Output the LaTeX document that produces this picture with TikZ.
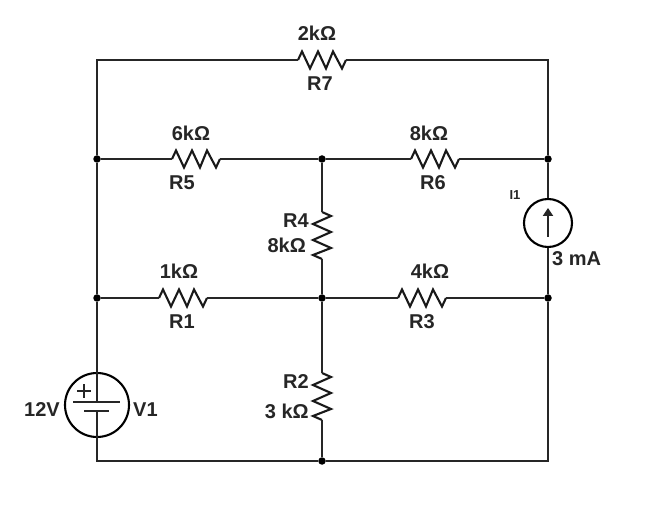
\documentclass[tikz,border=0pt]{standalone}
\usepackage{fontspec}
\setmainfont{Liberation Sans}
\usetikzlibrary{arrows.meta}
\tikzset{
  wire/.style={line width=2.1pt,draw=black!85,line cap=butt,line join=miter},
  zig/.style={line width=2.1pt,draw=black!90,line join=miter},
  lab/.style={font=\fontsize{20}{22}\selectfont\bfseries,text=black!85,inner sep=0pt},
  smalllab/.style={font=\fontsize{13}{15}\selectfont\bfseries,text=black!85,inner sep=0pt},
  junction/.style={circle,fill=black,inner sep=0pt,minimum size=7.5pt},
  hres/.pic={\draw[zig] (-24,0)--(-20,-8.5)--(-12,8.5)--(-4,-8.5)--(4,8.5)--(11,-8.5)--(20,8.5)--(24,0);
    \coordinate (-w) at (-24,0); \coordinate (-e) at (24,0);},
  vres/.pic={\draw[zig] (0,-24)--(9,-20)--(-9,-12)--(9,-4)--(-9,4)--(9,12)--(-9,19)--(0,23);
    \coordinate (-n) at (0,-24); \coordinate (-s) at (0,23);}
}
\begin{document}
\begin{tikzpicture}[x=1pt,y=-1pt]
\useasboundingbox (0,0) rectangle (649,524);
\fill[white] (0,0) rectangle (649,524);
% corners
\coordinate (TL) at (97,60);
\coordinate (TR) at (548,60);
\coordinate (BL) at (97,461);
\coordinate (BR) at (548,461);
% junctions
\node[junction] (A) at (97,159) {};
\node[junction] (B) at (322,159) {};
\node[junction] (C) at (548,159) {};
\node[junction] (D) at (97,298) {};
\node[junction] (E) at (322,298) {};
\node[junction] (F) at (548,298) {};
\node[junction] (G) at (322,461) {};
% resistors
\pic (R7) at (322,60) {hres};
\pic (R5) at (196,159) {hres};
\pic (R6) at (435,159) {hres};
\pic (R1) at (183,298) {hres};
\pic (R3) at (422,298) {hres};
\pic (R4) at (322,236) {vres};
\pic (R2) at (322,397) {vres};
% sources
\node[circle,draw=black,line width=2.1pt,minimum size=64pt,inner sep=0pt] (V1) at (97,405) {};
\node[circle,draw=black,line width=2.1pt,minimum size=48pt,inner sep=0pt] (I1) at (548,223) {};
\coordinate (Vp) at (97,402);
\coordinate (Vn) at (97,411);
\coordinate (VpL) at (73,402);
\coordinate (VpR) at (120,402);
\coordinate (VnL) at (84,411);
\coordinate (VnR) at (109,411);
\coordinate (Ia) at (548,237);
\coordinate (Ib) at (548,208);
% wires
\draw[wire] (V1.north) -- (D) -- (A) -- (TL) -- (R7-w);
\draw[wire] (R7-e) -- (TR) -- (C) -- (I1.north);
\draw[wire] (I1.south) -- (F) -- (BR) -- (G) -- (BL) -- (V1.south);
\draw[wire] (A) -- (R5-w);
\draw[wire] (R5-e) -- (B) -- (R6-w);
\draw[wire] (R6-e) -- (C);
\draw[wire] (D) -- (R1-w);
\draw[wire] (R1-e) -- (E) -- (R3-w);
\draw[wire] (R3-e) -- (F);
\draw[wire] (B) -- (R4-n);
\draw[wire] (R4-s) -- (E) -- (R2-n);
\draw[wire] (R2-s) -- (G);
% source internals
\draw[wire] (V1.north) -- (Vp);
\draw[wire] (Vn) -- (V1.south);
\draw[wire] (VpL) -- (VpR);
\draw[wire] (VnL) -- (VnR);
\draw[line width=1.5pt,draw=black!85] (77,391) -- (91,391) (84,384) -- (84,398);
\draw[wire,-{Triangle[length=8pt,width=10pt]}] (Ia) -- (Ib);
% labels
\node[lab] (l7a) at (317,33) {2kΩ};
\node[lab] (l7b) at (320,84) {R7};
\node[lab] (l5a) at (191,133) {6kΩ};
\node[lab] (l5b) at (182,183) {R5};
\node[lab] (l6a) at (429,133) {8kΩ};
\node[lab] (l6b) at (433,183) {R6};
\node[lab] (l1a) at (179,271) {1kΩ};
\node[lab] (l1b) at (182,322) {R1};
\node[lab] (l3a) at (430,271) {4kΩ};
\node[lab] (l3b) at (422,322) {R3};
\node[lab,anchor=east] (l4a) at (309,221) {R4};
\node[lab,anchor=east] (l4b) at (306,245) {8kΩ};
\node[lab,anchor=east] (l2a) at (309,382) {R2};
\node[lab,anchor=east] (l2b) at (309,411) {3 kΩ};
\node[lab,anchor=east] (lv) at (60,410) {12V};
\node[lab,anchor=west] (lv1) at (133,410) {V1};
\node[smalllab] (li) at (515,195) {I1};
\node[lab,anchor=west] (lm) at (552,259) {3 mA};
\end{tikzpicture}
\end{document}
